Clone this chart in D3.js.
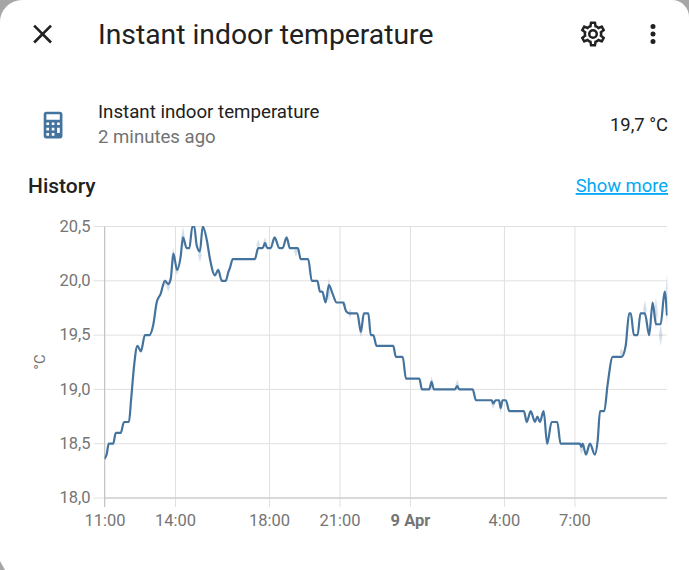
<!DOCTYPE html>
<html>
<head>
<meta charset="utf-8">
<script src="https://cdn.jsdelivr.net/npm/d3@7"></script>
<style>
  html, body { margin: 0; padding: 0; background: #fff; }
  svg { display: block; font-family: Roboto, sans-serif; }
  .grid line { stroke: #e0e0e0; stroke-width: 1; }
  .axis text { fill: #757575; font-size: 16.5px; font-family: Roboto, sans-serif; }
  .axis path { display: none; }
</style>
</head>
<body>
<svg id="chart" width="689" height="570"></svg>
<script>
// Hours after 11:00 on 8 April
const hours = [0, .09, .18, .37, .48, .69, .83, 1.04, 1.13, 1.26, 1.40, 1.55, 1.72, 1.91, 2.08, 2.22, 2.39, 2.57, 2.71, 2.82,
  2.93, 3.09, 3.24, 3.34, 3.50, 3.61, 3.74, 3.82, 3.92, 4.06, 4.18, 4.35, 4.49, 4.70, 4.84, 4.99, 5.16, 5.27, 5.34, 5.46,
  6.40, 6.54, 6.73, 6.83, 6.93, 7.07, 7.24, 7.44, 7.58, 7.75, 7.89, 8.15, 8.23, 8.35, 8.67, 8.82, 9.06, 9.17, 9.27, 9.41,
  9.55, 9.71, 9.88, 10.16, 10.28, 10.42, 10.76, 10.91, 11.04, 11.23, 11.33, 11.44, 11.58, 12.29, 12.40, 12.69, 12.83, 13.40, 13.51, 13.82,
  13.92, 14.02, 14.91, 15.01, 15.10, 15.67, 15.81, 16.48, 16.54, 16.65, 16.79, 16.86, 16.94, 17.08, 17.23, 17.85, 17.97, 18.14, 18.32, 18.42,
  18.53, 18.69, 18.84, 19.03, 19.27, 19.41, 20.23, 20.30, 20.35, 20.49, 20.66, 20.87, 20.99, 21.09, 21.27, 21.41, 21.63, 22.01, 22.18, 22.33,
  22.40, 22.53, 22.69, 22.81, 23.0, 23.18, 23.33, 23.47, 23.67, 23.84, 23.94];
const temps = [18.36, 18.4, 18.5, 18.5, 18.6, 18.6, 18.7, 18.7, 18.9, 19.22, 19.4, 19.35, 19.5, 19.5, 19.6, 19.8, 19.88, 20.0, 19.97, 20.02,
  20.25, 20.1, 20.22, 20.4, 20.3, 20.3, 20.5, 20.5, 20.33, 20.27, 20.5, 20.38, 20.2, 20.05, 20.1, 20.0, 20.0, 20.08, 20.12, 20.2,
  20.2, 20.3, 20.3, 20.35, 20.3, 20.3, 20.4, 20.3, 20.3, 20.4, 20.3, 20.3, 20.3, 20.2, 20.2, 20.0, 20.0, 19.9, 19.9, 19.8,
  19.96, 19.88, 19.8, 19.8, 19.72, 19.7, 19.7, 19.53, 19.7, 19.7, 19.5, 19.5, 19.4, 19.4, 19.3, 19.3, 19.1, 19.1, 19.0, 19.0,
  19.07, 19.0, 19.0, 19.03, 19.0, 19.0, 18.9, 18.9, 18.87, 18.9, 18.9, 18.83, 18.9, 18.9, 18.8, 18.8, 18.7, 18.8, 18.7, 18.75,
  18.7, 18.8, 18.5, 18.7, 18.7, 18.5, 18.5, 18.47, 18.5, 18.4, 18.5, 18.4, 18.53, 18.8, 18.8, 19.04, 19.3, 19.3, 19.4, 19.7,
  19.7, 19.5, 19.5, 19.7, 19.7, 19.5, 19.8, 19.6, 19.6, 19.9, 19.68];

// Pale min/max spikes around the mean line
const spikeHours = [2.93, 3.34, 4.06, 3.09, 2.57, 2.71, 6.54, 6.83, 8.15, 9.55, 10.2, 10.45, 10.91, 13.92, 15.01, 16.54, 16.86, 18.84, 20.3, 23.0, 23.47, 23.67, 23.94, 22.0];
const spikeLow = [20.15, 20.3, 20.17, 20.05, 19.95, 19.9, 20.28, 20.3, 20.22, 19.8, 19.75, 19.65, 19.48, 19.0, 19.0, 18.82, 18.78, 18.48, 18.4, 19.65, 19.55, 19.4, 19.6, 19.3];
const spikeHigh = [20.3, 20.5, 20.3, 20.15, 20.02, 20.0, 20.38, 20.4, 20.32, 20.03, 19.82, 19.75, 19.6, 19.12, 19.09, 18.9, 18.9, 18.55, 18.5, 19.82, 19.85, 19.6, 20.07, 19.38];

const yTicks = [18, 18.5, 19, 19.5, 20, 20.5];
const xTickHours = [0, 3, 7, 10, 13, 17, 20];
const xTickLabels = ['11:00', '14:00', '18:00', '21:00', '9 Apr', '4:00', '7:00'];

const startTime = new Date(2023, 3, 8, 11);
const toDate = h => new Date(startTime.getTime() + h * 3600000);
const comma = d3.format('.1f');

const svg = d3.select('#chart');
const x = d3.scaleTime().domain([toDate(0), toDate(23.94)]).range([104.5, 667]);
const y = d3.scaleLinear().domain([18, 20.5]).range([498, 226.5]);

// Grey backdrop showing in the dialog's rounded corners
svg.append('path').attr('fill', '#a6a6a6').attr('d', 'M0,0H22A22,22 0 0,0 0,22Z');
svg.append('path').attr('fill', '#a6a6a6').attr('d', 'M689,0H672A17,17 0 0,1 689,17Z');
svg.append('path').attr('fill', '#a6a6a6').attr('d', 'M0,561L5,570H0Z');

// Header icons and text
function icon(path, tx, ty, scale, color) {
    svg.append('path').attr('d', path).attr('fill', color)
        .attr('transform', `translate(${tx},${ty}) scale(${scale})`);
}
const closePath = 'M19,6.41L17.59,5L12,10.59L6.41,5L5,6.41L10.59,12L5,17.59L6.41,19L12,13.41L17.59,19L19,17.59L13.41,12L19,6.41Z';
const cogPath = 'M12,8A4,4 0 0,1 16,12A4,4 0 0,1 12,16A4,4 0 0,1 8,12A4,4 0 0,1 12,8M12,10A2,2 0 0,0 10,12A2,2 0 0,0 12,14A2,2 0 0,0 14,12A2,2 0 0,0 12,10M10,22C9.75,22 9.54,21.82 9.5,21.58L9.13,18.93C8.5,18.68 7.96,18.34 7.44,17.94L4.95,18.95C4.73,19.03 4.46,18.95 4.34,18.73L2.34,15.27C2.21,15.05 2.27,14.78 2.46,14.63L4.57,12.97L4.5,12L4.57,11L2.46,9.37C2.27,9.22 2.21,8.95 2.34,8.73L4.34,5.27C4.46,5.05 4.73,4.96 4.95,5.05L7.44,6.05C7.96,5.66 8.5,5.32 9.13,5.07L9.5,2.42C9.54,2.18 9.75,2 10,2H14C14.25,2 14.46,2.18 14.5,2.42L14.87,5.07C15.5,5.32 16.04,5.66 16.56,6.05L19.05,5.05C19.27,4.96 19.54,5.05 19.66,5.27L21.66,8.73C21.79,8.95 21.73,9.22 21.54,9.37L19.43,11L19.5,12L19.43,13L21.54,14.63C21.73,14.78 21.79,15.05 21.66,15.27L19.66,18.73C19.54,18.95 19.27,19.04 19.05,18.95L16.56,17.95C16.04,18.34 15.5,18.68 14.87,18.93L14.5,21.58C14.46,21.82 14.25,22 14,22H10M11.25,4L10.88,6.61C9.68,6.86 8.62,7.5 7.85,8.39L5.44,7.35L4.69,8.65L6.8,10.2C6.4,11.37 6.4,12.64 6.8,13.8L4.68,15.36L5.43,16.66L7.86,15.62C8.63,16.5 9.68,17.14 10.87,17.38L11.24,20H12.76L13.13,17.39C14.32,17.14 15.37,16.5 16.14,15.62L18.57,16.66L19.32,15.36L17.2,13.81C17.6,12.64 17.6,11.37 17.2,10.2L19.31,8.65L18.56,7.35L16.15,8.39C15.38,7.5 14.32,6.86 13.12,6.62L12.75,4H11.25Z';
const dotsPath = 'M12,16A2,2 0 0,1 14,18A2,2 0 0,1 12,20A2,2 0 0,1 10,18A2,2 0 0,1 12,16M12,10A2,2 0 0,1 14,12A2,2 0 0,1 12,14A2,2 0 0,1 10,12A2,2 0 0,1 12,10M12,4A2,2 0 0,1 14,6A2,2 0 0,1 12,8A2,2 0 0,1 10,6A2,2 0 0,1 12,4Z';
const calcPath = 'M7,2H17A2,2 0 0,1 19,4V20A2,2 0 0,1 17,22H7A2,2 0 0,1 5,20V4A2,2 0 0,1 7,2M7,4V8H17V4H7M7,10V12H9V10H7M11,10V12H13V10H11M15,10V12H17V10H15M7,14V16H9V14H7M11,14V16H13V14H11M15,14V18H17V14H15M7,18V20H9V18H7M11,18V20H13V18H11Z';
icon(closePath, 26.5, 18, 1.34, '#212121');
icon(cogPath, 578, 19, 1.25, '#212121');
icon(dotsPath, 638, 19, 1.25, '#212121');
icon(calcPath, 37, 109, 1.34, '#44739e');

function label(txt, tx, ty, size, color, anchor, weight) {
    return svg.append('text').text(txt).attr('x', tx).attr('y', ty)
        .attr('font-size', size).attr('fill', color)
        .attr('text-anchor', anchor || 'start').attr('font-weight', weight || 400);
}
label('Instant indoor temperature', 98, 44, 28.3, '#212121');
label('Instant indoor temperature', 98, 118, 18.7, '#212121');
label('2 minutes ago', 98, 143, 18.6, '#727272');
label('19,7 °C', 668, 131, 18.4, '#212121', 'end');
label('History', 28, 193, 21, '#212121', 'start', 500);
label('Show more', 668, 192, 18.4, '#03a9f4', 'end')
    .attr('text-decoration', 'underline');

// Grid and axes
svg.append('g').attr('class', 'axis grid')
    .attr('transform', 'translate(104.5,-0.5)')
    .call(d3.axisLeft(y).tickValues(yTicks).tickSize(-562.5).tickPadding(14)
        .tickFormat(d => comma(d).replace('.', ',')))
    .call(g => g.selectAll('.tick line').attr('x1', -11).attr('x2', 562.5));

svg.append('g').attr('class', 'axis grid')
    .attr('transform', 'translate(0,498)')
    .call(d3.axisBottom(x).tickValues(xTickHours.map(toDate)).tickSize(8).tickPadding(8)
        .tickFormat((d, i) => xTickLabels[i]))
    .call(g => g.selectAll('.tick line').attr('y1', -271.5).attr('y2', 9))
    .call(g => g.selectAll('.tick text').attr('font-weight', (d, i) => xTickLabels[i] === '9 Apr' ? 700 : 400));

svg.append('line').attr('x1', 104.5).attr('x2', 104.5).attr('y1', 226.5).attr('y2', 507).attr('stroke', '#c4c4c4');
svg.append('line').attr('x1', 104.5).attr('x2', 667).attr('y1', 498).attr('y2', 498).attr('stroke', '#c4c4c4');

label('°C', 0, 0, 15, '#757575', 'middle')
    .attr('transform', 'translate(45,362) rotate(-90)');

// Clip to the plot area, the line touches the top
svg.append('clipPath').attr('id', 'plot').append('rect')
    .attr('x', 104.5).attr('y', 226).attr('width', 563).attr('height', 272);
const plot = svg.append('g').attr('clip-path', 'url(#plot)');

const bandArea = d3.area().x(d => x(toDate(d.h))).y0(d => y(d.lo)).y1(d => y(d.hi));
plot.selectAll('.spike')
    .data(spikeHours)
    .enter()
    .append('path')
    .attr('class', 'spike')
    .attr('fill', '#44739e')
    .attr('fill-opacity', 0.22)
    .attr('d', (h, i) => {
        const mid = (spikeLow[i] + spikeHigh[i]) / 2;
        return bandArea([
            { h: h - 0.08, lo: mid, hi: mid },
            { h: h, lo: spikeLow[i], hi: spikeHigh[i] },
            { h: h + 0.08, lo: mid, hi: mid }
        ]);
    });

const tempLine = d3.line()
    .x((d, i) => x(toDate(hours[i])))
    .y(d => y(d))
    .curve(d3.curveMonotoneX);

plot.append('path')
    .attr('d', tempLine(temps))
    .attr('fill', 'none')
    .attr('stroke', '#44739e')
    .attr('stroke-width', 2.2);
</script>
</body>
</html>
